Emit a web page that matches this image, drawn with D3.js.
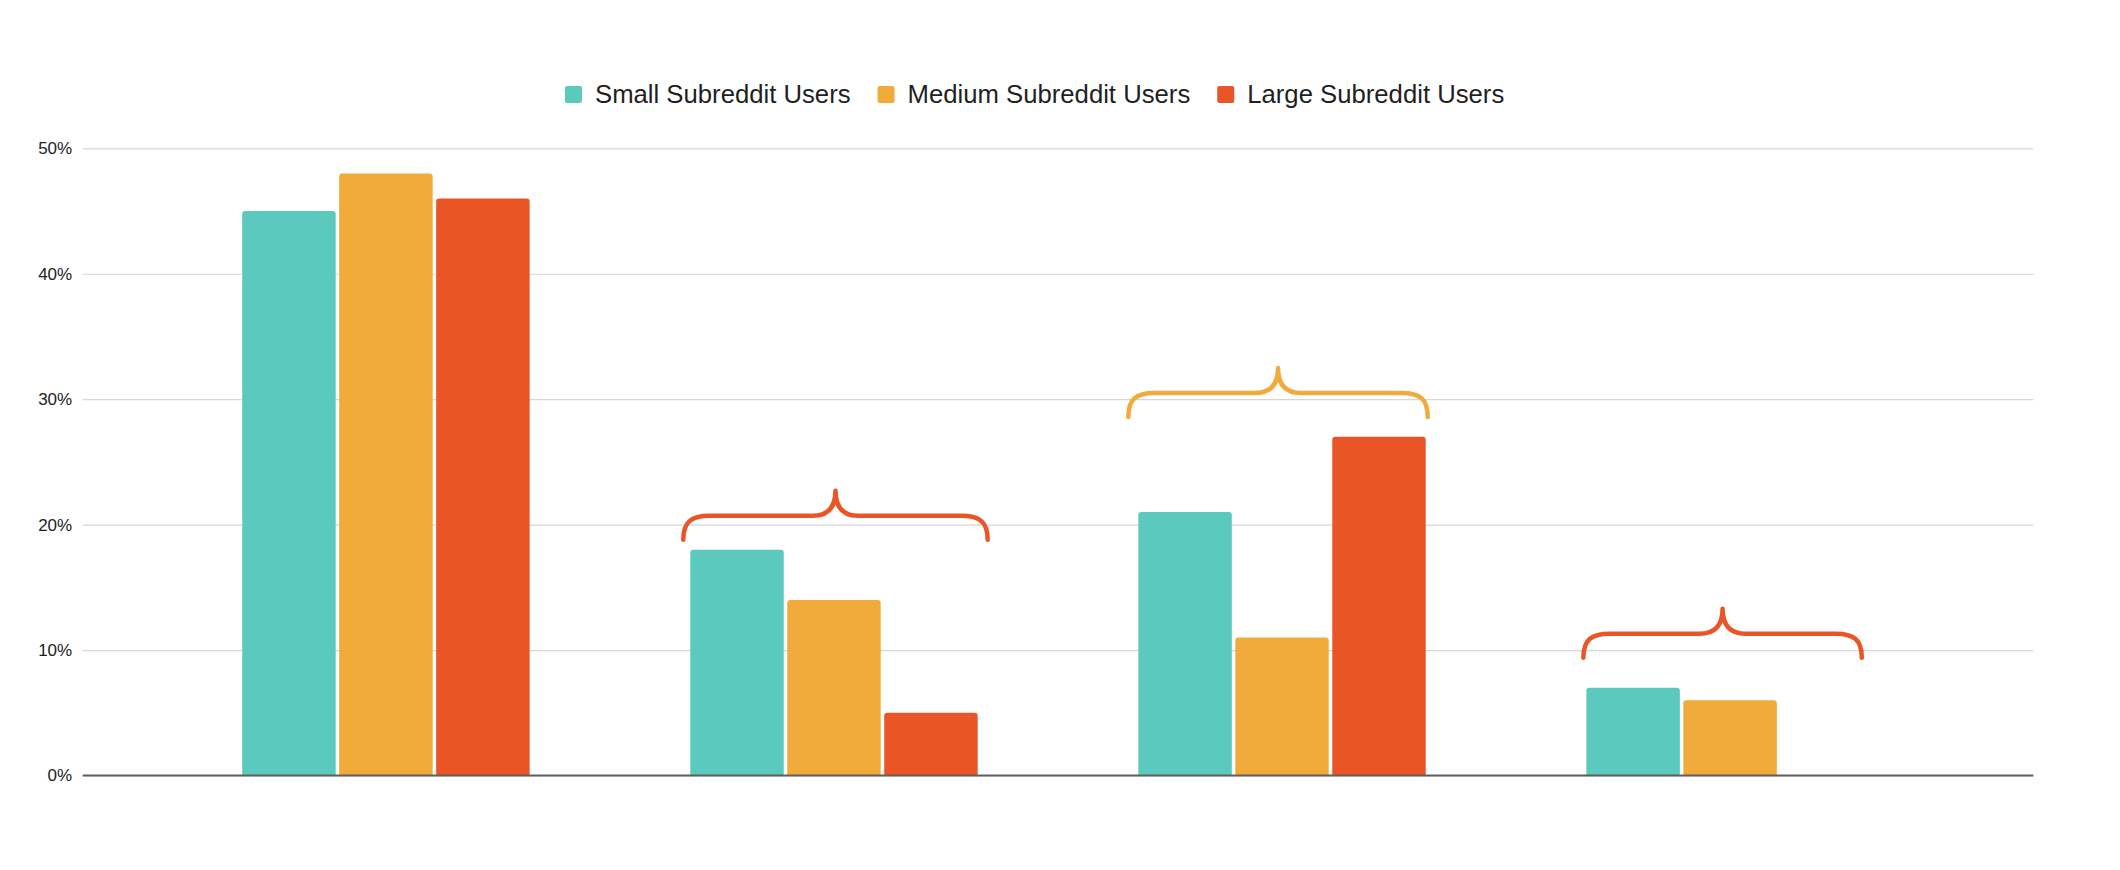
<!DOCTYPE html>
<html>
<head>
<meta charset="utf-8">
<script src="https://cdn.jsdelivr.net/npm/d3@7"></script>
<style>
  html, body { margin: 0; padding: 0; background: #ffffff; }
  svg { display: block; }
  text { font-family: "Liberation Sans", Arial, Helvetica, sans-serif; }
</style>
</head>
<body>
<svg id="chart" width="2120" height="870"></svg>
<script>
// ---- data ----
const categories = ["Group 1", "Group 2", "Group 3", "Group 4"];
const seriesNames = ["Small Subreddit Users", "Medium Subreddit Users", "Large Subreddit Users"];
const smallUsers  = [45, 18, 21, 7];
const mediumUsers = [48, 14, 11, 6];
const largeUsers  = [46, 5, 27, 0];
const yTicks = [0, 10, 20, 30, 40, 50];
// brace annotations: category, level (in %), series colour index
const braceCategories = ["Group 2", "Group 3", "Group 4"];
const braceLevels = [20.7, 30.5, 11.3];
const braceColorIdx = [2, 1, 2];

const colors = ["#5bc9be", "#f0ab3b", "#ea5527"];
const seriesValues = [smallUsers, mediumUsers, largeUsers];

// ---- layout ----
const svg = d3.select("#chart");
const plotLeft = 82.7, plotRight = 2033.3;
const plotTop = 148.3, plotBottom = 775.5;
// hand-drawn brace overhang (left, right) relative to each category band, in px
const braceOverhang = [[-7, 10], [-10, 2], [-3, -12]];

const x0 = d3.scaleBand().domain(categories).range([plotLeft, plotRight])
  .paddingInner(0.3585).paddingOuter(0.356);
const x1 = d3.scaleBand().domain(seriesNames).range([0, x0.bandwidth()])
  .paddingInner(0.036).paddingOuter(0);
const y = d3.scaleLinear().domain([0, 50]).range([plotBottom, plotTop]);

// gridlines
const yAxis = d3.axisLeft(y).tickValues(yTicks).tickFormat(d => d + "%")
  .tickSize(-(plotRight - plotLeft)).tickPadding(10);
const gy = svg.append("g").attr("transform", `translate(${plotLeft},0)`).call(yAxis);
gy.select(".domain").remove();
gy.selectAll(".tick line").attr("stroke", "#d6d6d6").attr("stroke-width", 1.2);
gy.selectAll(".tick text").attr("fill", "#222").attr("font-size", "17px").attr("x", -10.5);

// bars
function topRoundedRect(x, yTop, w, h, r) {
  r = Math.min(r, h, w / 2);
  return `M${x},${yTop + h}V${yTop + r}Q${x},${yTop} ${x + r},${yTop}H${x + w - r}Q${x + w},${yTop} ${x + w},${yTop + r}V${yTop + h}Z`;
}
const rows = categories.map((c, i) => ({
  cat: c,
  vals: seriesNames.map((s, j) => ({ s, j, v: seriesValues[j][i] }))
}));
const groups = svg.append("g").selectAll("g").data(rows).join("g")
  .attr("transform", d => `translate(${x0(d.cat)},0)`);
groups.selectAll("path").data(d => d.vals.filter(e => e.v > 0)).join("path")
  .attr("d", e => topRoundedRect(x1(e.s), y(e.v), x1.bandwidth(), y(0) - y(e.v), 3))
  .attr("fill", e => colors[e.j]);

// baseline
svg.append("line")
  .attr("x1", plotLeft).attr("x2", plotRight)
  .attr("y1", y(0)).attr("y2", y(0))
  .attr("stroke", "#5f5f5f").attr("stroke-width", 2);

// braces
function bracePath(xa, xb, h) {
  const cx = (xa + xb) / 2;
  const drop = 24, rise = 25, r = 26, rt = 23;
  return `M${xa},${h + drop}` +
    `C${xa},${h + 6} ${xa + 8},${h} ${xa + r},${h}` +
    `L${cx - rt},${h}` +
    `C${cx - 8},${h} ${cx},${h - 8} ${cx},${h - rise}` +
    `C${cx},${h - 8} ${cx + 8},${h} ${cx + rt},${h}` +
    `L${xb - r},${h}` +
    `C${xb - 8},${h} ${xb},${h + 6} ${xb},${h + drop}`;
}
const braces = braceCategories.map((c, i) => ({ c, i, lvl: braceLevels[i], col: colors[braceColorIdx[i]] }));
svg.append("g").selectAll("path").data(braces).join("path")
  .attr("d", b => bracePath(x0(b.c) + braceOverhang[b.i][0],
                            x0(b.c) + x0.bandwidth() + braceOverhang[b.i][1], y(b.lvl)))
  .attr("fill", "none")
  .attr("stroke", b => b.col)
  .attr("stroke-width", 4.5)
  .attr("stroke-linecap", "round")
  .attr("stroke-linejoin", "round");

// legend
const legend = svg.append("g").attr("transform", "translate(565,0)");
let lx = 0;
seriesNames.forEach((name, i) => {
  const g = legend.append("g").attr("transform", `translate(${lx},0)`);
  g.append("rect").attr("x", 0).attr("y", 86).attr("width", 17).attr("height", 17)
    .attr("rx", 2).attr("fill", colors[i]);
  const t = g.append("text").attr("x", 30).attr("y", 103)
    .attr("font-size", "25.7px").attr("fill", "#1f1f1f").text(name);
  const w = t.node().getComputedTextLength();
  lx += 30 + w + 27;
});
</script>
</body>
</html>
